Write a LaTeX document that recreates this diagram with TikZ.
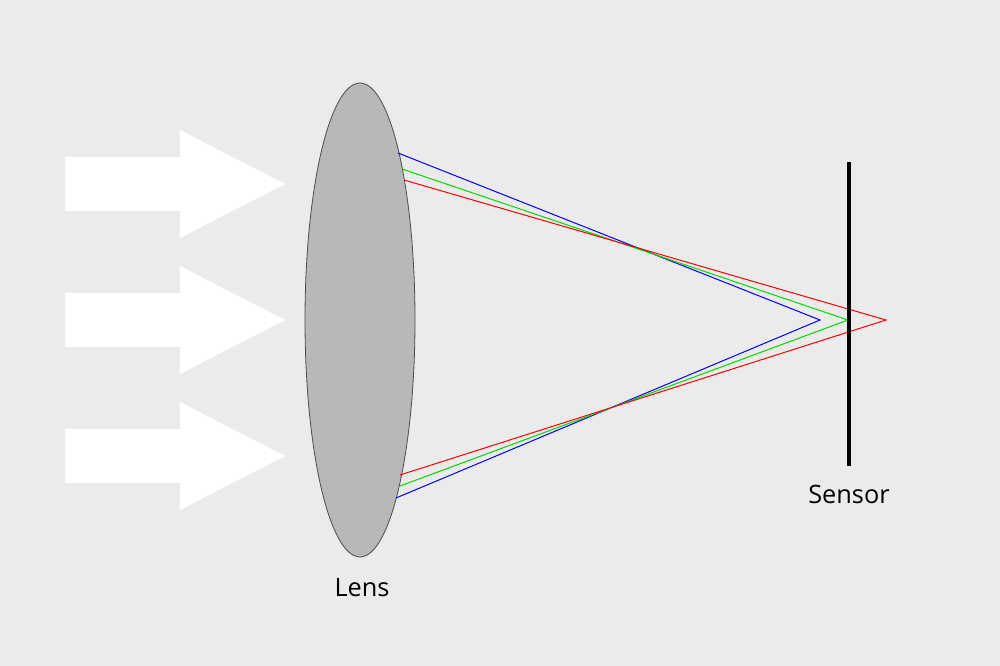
\documentclass[tikz,border=0pt]{standalone}
\usepackage{fontspec}
\setmainfont{Open Sans}
\usetikzlibrary{shapes.geometric}
\definecolor{bg}{HTML}{EBEBEB}
\definecolor{lensfill}{HTML}{B8B8B8}
\begin{document}
\begin{tikzpicture}[x=0.75pt,y=-0.75pt,
  bigarrow/.style={fill=white,draw=none},
  ray/.style={line width=0.75pt},
  lbl/.style={font=\fontsize{19}{22}\selectfont,inner sep=0pt}]
\fill[bg] (0,0) rectangle (1000,666);
\useasboundingbox (0,0) rectangle (1000,666);
\foreach \c in {184,320,456}{
  \fill[bigarrow] (65,\c-27) -- (180,\c-27) -- (180,\c-54) -- (285,\c) -- (180,\c+54) -- (180,\c+27) -- (65,\c+27) -- cycle;
}
\node[ellipse,draw=black!70,fill=lensfill,minimum width=110*0.75pt,minimum height=474*0.75pt,inner sep=0pt,line width=0.6pt] (lens) at (360,320) {};
\coordinate (b1) at (398,153); \coordinate (bf) at (820,320); \coordinate (b2) at (396,498);
\coordinate (g1) at (402,169); \coordinate (gf) at (848,320); \coordinate (g2) at (400,486);
\coordinate (r1) at (404,180); \coordinate (rf) at (886,320); \coordinate (r2) at (400,475);
\draw[ray,blue] (b1) -- (bf) -- (b2);
\draw[ray,green!85!black] (g1) -- (gf) -- (g2);
\draw[ray,red] (r1) -- (rf) -- (r2);
\coordinate (s1) at (849,162); \coordinate (s2) at (849,466);
\draw[line width=3pt] (s1) -- (s2);
\node[lbl] (sensor) at (849,494) {Sensor};
\node[lbl] (lenslbl) at (362,588) {Lens};
\end{tikzpicture}
\end{document}
